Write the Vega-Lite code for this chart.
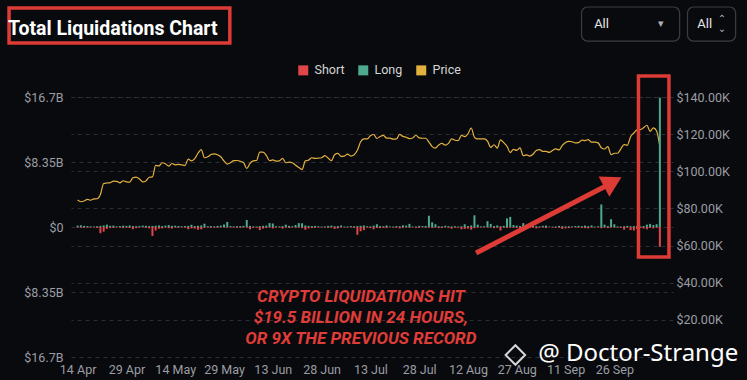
{
"$schema": "https://vega.github.io/schema/vega-lite/v6.json",
"width": 602, "height": 260,
"autosize": {"type": "none"},
"padding": {"left": 71, "top": 97, "right": 74, "bottom": 23},
"background": "#090a0e",
"title": {"text": "Total Liquidations Chart", "anchor": "start", "frame": "group", "dx": -63, "offset": -48, "baseline": "alphabetic", "font": "Liberation Sans Narrow, Roboto, sans-serif", "fontSize": 19.5, "fontWeight": "bold", "color": "#ffffff"},
"config": {
  "view": {"stroke": null},
  "axis": {"labelFont": "Liberation Sans Narrow, Roboto, sans-serif", "labelColor": "#9b9da4", "labelFontSize": 12.5, "domain": false, "ticks": false, "title": null, "gridColor": "#2c2e35", "gridDash": [4, 4], "gridWidth": 1}
},
"data": {"values": [
{"date":"2025-04-14","Long":0.18,"Short":-0.10,"Price":84500},
{"date":"2025-04-15","Long":0.22,"Short":-0.08,"Price":83600},
{"date":"2025-04-16","Long":0.15,"Short":-0.12,"Price":84000},
{"date":"2025-04-17","Long":0.12,"Short":-0.09,"Price":84900},
{"date":"2025-04-18","Long":0.08,"Short":-0.06,"Price":84400},
{"date":"2025-04-19","Long":0.07,"Short":-0.08,"Price":85100},
{"date":"2025-04-20","Long":0.10,"Short":-0.12,"Price":85200},
{"date":"2025-04-21","Long":0.14,"Short":-0.80,"Price":87500},
{"date":"2025-04-22","Long":0.20,"Short":-0.60,"Price":93400},
{"date":"2025-04-23","Long":0.30,"Short":-0.25,"Price":93700},
{"date":"2025-04-24","Long":0.16,"Short":-0.14,"Price":93900},
{"date":"2025-04-25","Long":0.18,"Short":-0.12,"Price":94700},
{"date":"2025-04-26","Long":0.09,"Short":-0.07,"Price":94600},
{"date":"2025-04-27","Long":0.12,"Short":-0.08,"Price":93800},
{"date":"2025-04-28","Long":0.17,"Short":-0.15,"Price":94900},
{"date":"2025-04-29","Long":0.14,"Short":-0.10,"Price":94300},
{"date":"2025-04-30","Long":0.20,"Short":-0.12,"Price":94200},
{"date":"2025-05-01","Long":0.12,"Short":-0.28,"Price":96500},
{"date":"2025-05-02","Long":0.10,"Short":-0.15,"Price":96900},
{"date":"2025-05-03","Long":0.14,"Short":-0.07,"Price":95900},
{"date":"2025-05-04","Long":0.18,"Short":-0.06,"Price":94300},
{"date":"2025-05-05","Long":0.15,"Short":-0.10,"Price":94800},
{"date":"2025-05-06","Long":0.12,"Short":-0.18,"Price":96800},
{"date":"2025-05-07","Long":0.14,"Short":-1.15,"Price":97000},
{"date":"2025-05-08","Long":0.16,"Short":-0.45,"Price":103200},
{"date":"2025-05-09","Long":0.20,"Short":-0.22,"Price":102900},
{"date":"2025-05-10","Long":0.12,"Short":-0.18,"Price":104600},
{"date":"2025-05-11","Long":0.18,"Short":-0.10,"Price":104100},
{"date":"2025-05-12","Long":0.25,"Short":-0.16,"Price":102800},
{"date":"2025-05-13","Long":0.14,"Short":-0.20,"Price":104200},
{"date":"2025-05-14","Long":0.16,"Short":-0.08,"Price":103500},
{"date":"2025-05-15","Long":0.13,"Short":-0.10,"Price":103700},
{"date":"2025-05-16","Long":0.10,"Short":-0.09,"Price":103500},
{"date":"2025-05-17","Long":0.12,"Short":-0.07,"Price":103100},
{"date":"2025-05-18","Long":0.14,"Short":-0.30,"Price":106500},
{"date":"2025-05-19","Long":0.28,"Short":-0.18,"Price":105600},
{"date":"2025-05-20","Long":0.12,"Short":-0.20,"Price":106800},
{"date":"2025-05-21","Long":0.15,"Short":-0.35,"Price":109700},
{"date":"2025-05-22","Long":0.20,"Short":-0.30,"Price":111700},
{"date":"2025-05-23","Long":0.42,"Short":-0.12,"Price":107300},
{"date":"2025-05-24","Long":0.10,"Short":-0.08,"Price":107800},
{"date":"2025-05-25","Long":0.12,"Short":-0.10,"Price":109000},
{"date":"2025-05-26","Long":0.08,"Short":-0.12,"Price":109400},
{"date":"2025-05-27","Long":0.14,"Short":-0.09,"Price":108900},
{"date":"2025-05-28","Long":0.18,"Short":-0.08,"Price":107800},
{"date":"2025-05-29","Long":0.32,"Short":-0.07,"Price":105600},
{"date":"2025-05-30","Long":0.65,"Short":-0.09,"Price":103900},
{"date":"2025-05-31","Long":0.12,"Short":-0.08,"Price":104600},
{"date":"2025-06-01","Long":0.08,"Short":-0.06,"Price":105700},
{"date":"2025-06-02","Long":0.10,"Short":-0.12,"Price":105800},
{"date":"2025-06-03","Long":0.12,"Short":-0.10,"Price":105400},
{"date":"2025-06-04","Long":0.15,"Short":-0.08,"Price":104700},
{"date":"2025-06-05","Long":0.90,"Short":-0.10,"Price":101500},
{"date":"2025-06-06","Long":0.14,"Short":-0.30,"Price":104300},
{"date":"2025-06-07","Long":0.08,"Short":-0.12,"Price":105600},
{"date":"2025-06-08","Long":0.07,"Short":-0.08,"Price":105800},
{"date":"2025-06-09","Long":0.12,"Short":-0.40,"Price":110300},
{"date":"2025-06-10","Long":0.15,"Short":-0.20,"Price":110300},
{"date":"2025-06-11","Long":0.18,"Short":-0.12,"Price":108600},
{"date":"2025-06-12","Long":0.50,"Short":-0.10,"Price":105700},
{"date":"2025-06-13","Long":0.45,"Short":-0.18,"Price":106100},
{"date":"2025-06-14","Long":0.10,"Short":-0.08,"Price":105500},
{"date":"2025-06-15","Long":0.08,"Short":-0.07,"Price":105600},
{"date":"2025-06-16","Long":0.12,"Short":-0.20,"Price":107000},
{"date":"2025-06-17","Long":0.30,"Short":-0.10,"Price":104600},
{"date":"2025-06-18","Long":0.15,"Short":-0.12,"Price":104900},
{"date":"2025-06-19","Long":0.10,"Short":-0.08,"Price":104600},
{"date":"2025-06-20","Long":0.25,"Short":-0.10,"Price":103300},
{"date":"2025-06-21","Long":0.50,"Short":-0.08,"Price":102100},
{"date":"2025-06-22","Long":0.48,"Short":-0.15,"Price":100900},
{"date":"2025-06-23","Long":0.20,"Short":-0.35,"Price":105600},
{"date":"2025-06-24","Long":0.15,"Short":-0.18,"Price":106000},
{"date":"2025-06-25","Long":0.12,"Short":-0.14,"Price":107300},
{"date":"2025-06-26","Long":0.14,"Short":-0.10,"Price":106900},
{"date":"2025-06-27","Long":0.10,"Short":-0.08,"Price":107100},
{"date":"2025-06-28","Long":0.06,"Short":-0.05,"Price":107300},
{"date":"2025-06-29","Long":0.08,"Short":-0.09,"Price":108400},
{"date":"2025-06-30","Long":0.14,"Short":-0.10,"Price":107100},
{"date":"2025-07-01","Long":0.18,"Short":-0.08,"Price":105700},
{"date":"2025-07-02","Long":0.10,"Short":-0.25,"Price":108900},
{"date":"2025-07-03","Long":0.12,"Short":-0.18,"Price":109600},
{"date":"2025-07-04","Long":0.20,"Short":-0.08,"Price":108000},
{"date":"2025-07-05","Long":0.06,"Short":-0.05,"Price":108200},
{"date":"2025-07-06","Long":0.07,"Short":-0.08,"Price":109200},
{"date":"2025-07-07","Long":0.12,"Short":-0.07,"Price":108200},
{"date":"2025-07-08","Long":0.10,"Short":-0.10,"Price":108900},
{"date":"2025-07-09","Long":0.12,"Short":-1.00,"Price":111300},
{"date":"2025-07-10","Long":0.15,"Short":-0.55,"Price":115900},
{"date":"2025-07-11","Long":0.20,"Short":-0.40,"Price":117500},
{"date":"2025-07-12","Long":0.10,"Short":-0.08,"Price":117400},
{"date":"2025-07-13","Long":0.08,"Short":-0.15,"Price":119100},
{"date":"2025-07-14","Long":0.18,"Short":-0.30,"Price":119800},
{"date":"2025-07-15","Long":0.35,"Short":-0.12,"Price":117700},
{"date":"2025-07-16","Long":0.12,"Short":-0.15,"Price":118700},
{"date":"2025-07-17","Long":0.10,"Short":-0.12,"Price":119300},
{"date":"2025-07-18","Long":0.20,"Short":-0.14,"Price":117900},
{"date":"2025-07-19","Long":0.08,"Short":-0.06,"Price":117900},
{"date":"2025-07-20","Long":0.06,"Short":-0.07,"Price":117300},
{"date":"2025-07-21","Long":0.12,"Short":-0.10,"Price":117400},
{"date":"2025-07-22","Long":0.10,"Short":-0.18,"Price":119900},
{"date":"2025-07-23","Long":0.22,"Short":-0.10,"Price":118800},
{"date":"2025-07-24","Long":0.18,"Short":-0.08,"Price":118300},
{"date":"2025-07-25","Long":0.40,"Short":-0.10,"Price":117600},
{"date":"2025-07-26","Long":0.08,"Short":-0.06,"Price":117900},
{"date":"2025-07-27","Long":0.06,"Short":-0.12,"Price":119400},
{"date":"2025-07-28","Long":0.15,"Short":-0.10,"Price":118000},
{"date":"2025-07-29","Long":0.12,"Short":-0.07,"Price":117800},
{"date":"2025-07-30","Long":0.14,"Short":-0.08,"Price":117800},
{"date":"2025-07-31","Long":1.45,"Short":-0.10,"Price":115700},
{"date":"2025-08-01","Long":0.60,"Short":-0.12,"Price":113300},
{"date":"2025-08-02","Long":0.35,"Short":-0.08,"Price":112500},
{"date":"2025-08-03","Long":0.10,"Short":-0.15,"Price":114200},
{"date":"2025-08-04","Long":0.08,"Short":-0.12,"Price":115000},
{"date":"2025-08-05","Long":0.16,"Short":-0.07,"Price":114100},
{"date":"2025-08-06","Long":0.10,"Short":-0.10,"Price":115000},
{"date":"2025-08-07","Long":0.08,"Short":-0.22,"Price":117500},
{"date":"2025-08-08","Long":0.10,"Short":-0.10,"Price":116700},
{"date":"2025-08-09","Long":0.07,"Short":-0.08,"Price":116500},
{"date":"2025-08-10","Long":0.10,"Short":-0.30,"Price":119300},
{"date":"2025-08-11","Long":0.35,"Short":-0.25,"Price":118700},
{"date":"2025-08-12","Long":0.12,"Short":-0.20,"Price":120200},
{"date":"2025-08-13","Long":0.20,"Short":-0.35,"Price":123300},
{"date":"2025-08-14","Long":1.50,"Short":-0.15,"Price":118300},
{"date":"2025-08-15","Long":0.30,"Short":-0.10,"Price":117400},
{"date":"2025-08-16","Long":0.08,"Short":-0.05,"Price":117400},
{"date":"2025-08-17","Long":0.10,"Short":-0.07,"Price":117500},
{"date":"2025-08-18","Long":0.75,"Short":-0.08,"Price":116300},
{"date":"2025-08-19","Long":0.40,"Short":-0.06,"Price":112900},
{"date":"2025-08-20","Long":0.12,"Short":-0.15,"Price":114300},
{"date":"2025-08-21","Long":0.20,"Short":-0.08,"Price":112500},
{"date":"2025-08-22","Long":0.10,"Short":-0.45,"Price":116900},
{"date":"2025-08-23","Long":0.15,"Short":-0.10,"Price":115400},
{"date":"2025-08-24","Long":1.10,"Short":-0.12,"Price":113500},
{"date":"2025-08-25","Long":1.30,"Short":-0.10,"Price":110100},
{"date":"2025-08-26","Long":0.25,"Short":-0.08,"Price":111800},
{"date":"2025-08-27","Long":0.18,"Short":-0.12,"Price":111300},
{"date":"2025-08-28","Long":0.12,"Short":-0.15,"Price":112600},
{"date":"2025-08-29","Long":0.50,"Short":-0.06,"Price":108400},
{"date":"2025-08-30","Long":0.12,"Short":-0.08,"Price":108800},
{"date":"2025-08-31","Long":0.10,"Short":-0.07,"Price":108200},
{"date":"2025-09-01","Long":0.25,"Short":-0.10,"Price":109200},
{"date":"2025-09-02","Long":0.10,"Short":-0.18,"Price":111200},
{"date":"2025-09-03","Long":0.08,"Short":-0.10,"Price":111700},
{"date":"2025-09-04","Long":0.15,"Short":-0.08,"Price":110700},
{"date":"2025-09-05","Long":0.18,"Short":-0.12,"Price":110700},
{"date":"2025-09-06","Long":0.06,"Short":-0.05,"Price":110200},
{"date":"2025-09-07","Long":0.05,"Short":-0.07,"Price":111200},
{"date":"2025-09-08","Long":0.07,"Short":-0.12,"Price":112100},
{"date":"2025-09-09","Long":0.14,"Short":-0.10,"Price":111500},
{"date":"2025-09-10","Long":0.10,"Short":-0.25,"Price":113900},
{"date":"2025-09-11","Long":0.08,"Short":-0.18,"Price":115500},
{"date":"2025-09-12","Long":0.10,"Short":-0.15,"Price":116100},
{"date":"2025-09-13","Long":0.08,"Short":-0.07,"Price":115900},
{"date":"2025-09-14","Long":0.12,"Short":-0.06,"Price":115300},
{"date":"2025-09-15","Long":0.15,"Short":-0.08,"Price":115400},
{"date":"2025-09-16","Long":0.10,"Short":-0.12,"Price":116800},
{"date":"2025-09-17","Long":0.18,"Short":-0.15,"Price":116500},
{"date":"2025-09-18","Long":0.12,"Short":-0.18,"Price":117100},
{"date":"2025-09-19","Long":0.20,"Short":-0.08,"Price":115700},
{"date":"2025-09-20","Long":0.06,"Short":-0.05,"Price":115700},
{"date":"2025-09-21","Long":0.10,"Short":-0.07,"Price":115300},
{"date":"2025-09-22","Long":2.90,"Short":-0.15,"Price":112700},
{"date":"2025-09-23","Long":0.30,"Short":-0.10,"Price":112000},
{"date":"2025-09-24","Long":0.12,"Short":-0.14,"Price":113300},
{"date":"2025-09-25","Long":1.00,"Short":-0.08,"Price":109000},
{"date":"2025-09-26","Long":0.35,"Short":-0.10,"Price":109700},
{"date":"2025-09-27","Long":0.08,"Short":-0.06,"Price":109700},
{"date":"2025-09-28","Long":0.06,"Short":-0.12,"Price":112100},
{"date":"2025-09-29","Long":0.10,"Short":-0.35,"Price":114400},
{"date":"2025-09-30","Long":0.15,"Short":-0.10,"Price":114000},
{"date":"2025-10-01","Long":0.10,"Short":-0.40,"Price":118600},
{"date":"2025-10-02","Long":0.12,"Short":-0.45,"Price":120600},
{"date":"2025-10-03","Long":0.14,"Short":-0.25,"Price":122300},
{"date":"2025-10-04","Long":0.08,"Short":-0.10,"Price":122400},
{"date":"2025-10-05","Long":0.12,"Short":-0.20,"Price":123500},
{"date":"2025-10-06","Long":0.30,"Short":-0.30,"Price":124800},
{"date":"2025-10-07","Long":0.40,"Short":-0.12,"Price":121500},
{"date":"2025-10-08","Long":0.25,"Short":-0.18,"Price":123400},
{"date":"2025-10-09","Long":0.35,"Short":-0.10,"Price":121700},
{"date":"2025-10-10","Long":16.60,"Short":-2.55,"Price":113200}
]},
"layer": [
  {
    "mark": {"type": "line", "strokeWidth": 1.2, "interpolate": "monotone"},
    "encoding": {
      "x": {"field": "date", "type": "temporal", "scale": {"type": "utc", "domain": [{"year": 2025, "month": 4, "date": 13, "hours": 12, "utc": true}, {"year": 2025, "month": 10, "date": 12, "hours": 12, "utc": true}]}, "axis": {"title": null, "labelExpr": "utcFormat(datum.value, '%d %b')", "labelPadding": 6, "grid": false, "labelOverlap": false, "labelFlush": false, "values": [{"year": 2025, "month": 4, "date": 14, "utc": true}, {"year": 2025, "month": 4, "date": 29, "utc": true}, {"year": 2025, "month": 5, "date": 14, "utc": true}, {"year": 2025, "month": 5, "date": 29, "utc": true}, {"year": 2025, "month": 6, "date": 13, "utc": true}, {"year": 2025, "month": 6, "date": 28, "utc": true}, {"year": 2025, "month": 7, "date": 13, "utc": true}, {"year": 2025, "month": 7, "date": 28, "utc": true}, {"year": 2025, "month": 8, "date": 12, "utc": true}, {"year": 2025, "month": 8, "date": 27, "utc": true}, {"year": 2025, "month": 9, "date": 11, "utc": true}, {"year": 2025, "month": 9, "date": 26, "utc": true}]}},
      "y": {"field": "Price", "type": "quantitative", "scale": {"domain": [0, 140000], "nice": false, "zero": false}, "axis": {"orient": "right", "values": [20000, 40000, 60000, 80000, 100000, 120000, 140000], "labelExpr": "'$' + format(datum.value / 1000, '.2f') + 'K'", "grid": true, "labelPadding": 3}},
      "color": {"datum": "Price"}
    }
  },
  {
    "layer": [
      {
        "transform": [{"fold": ["Short", "Long"], "as": ["series", "amount"]}],
        "mark": {"type": "bar", "size": 2},
        "encoding": {
          "x": {"field": "date", "type": "temporal", "axis": {"title": null, "labelExpr": "utcFormat(datum.value, '%d %b')", "labelPadding": 6, "grid": false, "labelOverlap": false, "labelFlush": false, "values": [{"year": 2025, "month": 4, "date": 14, "utc": true}, {"year": 2025, "month": 4, "date": 29, "utc": true}, {"year": 2025, "month": 5, "date": 14, "utc": true}, {"year": 2025, "month": 5, "date": 29, "utc": true}, {"year": 2025, "month": 6, "date": 13, "utc": true}, {"year": 2025, "month": 6, "date": 28, "utc": true}, {"year": 2025, "month": 7, "date": 13, "utc": true}, {"year": 2025, "month": 7, "date": 28, "utc": true}, {"year": 2025, "month": 8, "date": 12, "utc": true}, {"year": 2025, "month": 8, "date": 27, "utc": true}, {"year": 2025, "month": 9, "date": 11, "utc": true}, {"year": 2025, "month": 9, "date": 26, "utc": true}]}},
          "y": {"field": "amount", "type": "quantitative", "stack": null, "scale": {"domain": [-16.7, 16.7], "nice": false}, "axis": {"orient": "left", "values": [-16.7, -8.35, 0, 8.35, 16.7], "labelExpr": "datum.value == 0 ? '$0' : '$' + format(abs(datum.value), '.3~g') + 'B'", "grid": true, "labelPadding": 8}},
          "color": {"field": "series", "type": "nominal", "scale": {"domain": ["Short", "Long", "Price"], "range": ["#e0464a", "#4daa8d", "#e3b13f"]},
            "legend": {"orient": "none", "legendX": 226, "legendY": -33, "direction": "horizontal", "title": null, "symbolType": "square", "symbolSize": 100, "symbolStrokeWidth": 0, "labelColor": "#d5d5d5", "labelFontSize": 12.5, "labelFont": "Liberation Sans Narrow, Roboto, sans-serif", "columnPadding": 12, "labelOffset": 5, "padding": 0,
              "encode": {"symbols": {"update": {"fill": {"scale": "color", "field": "value"}, "opacity": {"value": 1}}}}}}
        }
      },
      {
        "data": {"values": [{}]},
        "mark": {"type": "rect", "filled": false, "stroke": "#dd3b35", "strokeWidth": 3.5},
        "encoding": {
          "x": {"datum": {"year": 2025, "month": 10, "date": 3, "hours": 10, "utc": true}, "type": "temporal"},
          "x2": {"datum": {"year": 2025, "month": 10, "date": 12, "hours": 19, "utc": true}},
          "y": {"datum": 19.4, "type": "quantitative"},
          "y2": {"datum": -3.85}
        }
      },
      {
        "data": {"values": [{}]},
        "mark": {"type": "rule", "stroke": "#dd3b35", "strokeWidth": 5},
        "encoding": {
          "x": {"datum": {"year": 2025, "month": 8, "date": 14, "hours": 12, "utc": true}, "type": "temporal"},
          "x2": {"datum": {"year": 2025, "month": 9, "date": 24, "hours": 0, "utc": true}},
          "y": {"datum": -3.34, "type": "quantitative"},
          "y2": {"datum": 5.4}
        }
      },
      {
        "data": {"values": [{}]},
        "mark": {"type": "point", "shape": "triangle-right", "filled": true, "color": "#dd3b35", "opacity": 1, "size": 520, "angle": 332},
        "encoding": {
          "x": {"datum": {"year": 2025, "month": 9, "date": 25, "hours": 12, "utc": true}, "type": "temporal"},
          "y": {"datum": 5.78, "type": "quantitative"}
        }
      },
      {
        "data": {"values": [{}]},
        "mark": {"type": "text", "text": ["CRYPTO LIQUIDATIONS HIT", "$19.5 BILLION IN 24 HOURS,", "OR 9X THE PREVIOUS RECORD"], "lineHeight": 21, "align": "center", "baseline": "middle", "font": "Liberation Sans Narrow, Roboto, sans-serif", "fontSize": 17, "fontWeight": "bold", "fontStyle": "italic", "color": "#e03c38"},
        "encoding": {
          "x": {"datum": {"year": 2025, "month": 7, "date": 10, "hours": 2, "utc": true}, "type": "temporal"},
          "y": {"datum": -8.95, "type": "quantitative"}
        }
      },
      {
        "data": {"values": [{}]},
        "mark": {"type": "rect", "filled": false, "stroke": "#dd3b35", "strokeWidth": 3.5},
        "encoding": {
          "x": {"datum": {"year": 2025, "month": 3, "date": 23, "hours": 22, "utc": true}, "type": "temporal"},
          "x2": {"datum": {"year": 2025, "month": 5, "date": 30, "hours": 19, "utc": true}},
          "y": {"datum": 28.13, "type": "quantitative"},
          "y2": {"datum": 23.64}
        }
      },
      {
        "data": {"values": [{}]},
        "mark": {"type": "rect", "filled": false, "stroke": "#3b3d45", "strokeWidth": 1.2, "cornerRadius": 6},
        "encoding": {
          "x": {"datum": {"year": 2025, "month": 9, "date": 15, "hours": 22, "utc": true}, "type": "temporal"},
          "x2": {"datum": {"year": 2025, "month": 10, "date": 16, "hours": 2, "utc": true}},
          "y": {"datum": 28.26, "type": "quantitative"},
          "y2": {"datum": 23.89}
        }
      },
      {
        "data": {"values": [{}]},
        "mark": {"type": "rect", "filled": false, "stroke": "#3b3d45", "strokeWidth": 1.2, "cornerRadius": 6},
        "encoding": {
          "x": {"datum": {"year": 2025, "month": 10, "date": 18, "hours": 12, "utc": true}, "type": "temporal"},
          "x2": {"datum": {"year": 2025, "month": 11, "date": 2, "hours": 7, "utc": true}},
          "y": {"datum": 28.26, "type": "quantitative"},
          "y2": {"datum": 23.89}
        }
      },
      {
        "data": {"values": [{}]},
        "mark": {"type": "text", "text": "All", "align": "left", "baseline": "middle", "font": "Roboto, sans-serif", "fontSize": 13, "color": "#e6e6e6"},
        "encoding": {
          "x": {"datum": {"year": 2025, "month": 9, "date": 19, "hours": 19, "utc": true}, "type": "temporal"},
          "y": {"datum": 26.08, "type": "quantitative"}
        }
      },
      {
        "data": {"values": [{}]},
        "mark": {"type": "text", "text": "▾", "align": "center", "baseline": "middle", "font": "DejaVu Sans", "fontSize": 11, "color": "#b0b0b0"},
        "encoding": {
          "x": {"datum": {"year": 2025, "month": 10, "date": 10, "hours": 7, "utc": true}, "type": "temporal"},
          "y": {"datum": 26.08, "type": "quantitative"}
        }
      },
      {
        "data": {"values": [{}]},
        "mark": {"type": "text", "text": "All", "align": "left", "baseline": "middle", "font": "Roboto, sans-serif", "fontSize": 13, "color": "#e6e6e6"},
        "encoding": {
          "x": {"datum": {"year": 2025, "month": 10, "date": 21, "hours": 12, "utc": true}, "type": "temporal"},
          "y": {"datum": 26.08, "type": "quantitative"}
        }
      },
      {
        "data": {"values": [{}]},
        "mark": {"type": "text", "text": "⌃", "align": "center", "baseline": "middle", "font": "DejaVu Sans", "fontSize": 10, "color": "#b0b0b0"},
        "encoding": {
          "x": {"datum": {"year": 2025, "month": 10, "date": 29, "hours": 2, "utc": true}, "type": "temporal"},
          "y": {"datum": 26.75, "type": "quantitative"}
        }
      },
      {
        "data": {"values": [{}]},
        "mark": {"type": "text", "text": "⌄", "align": "center", "baseline": "middle", "font": "DejaVu Sans", "fontSize": 10, "color": "#b0b0b0"},
        "encoding": {
          "x": {"datum": {"year": 2025, "month": 10, "date": 29, "hours": 2, "utc": true}, "type": "temporal"},
          "y": {"datum": 25.45, "type": "quantitative"}
        }
      },
      {
        "data": {"values": [{}]},
        "mark": {"type": "point", "shape": "diamond", "filled": false, "stroke": "#d8d8d8", "strokeWidth": 2, "opacity": 1, "size": 380},
        "encoding": {
          "x": {"datum": {"year": 2025, "month": 8, "date": 26, "hours": 14, "utc": true}, "type": "temporal"},
          "y": {"datum": -16.44, "type": "quantitative"}
        }
      },
      {
        "data": {"values": [{}]},
        "mark": {"type": "text", "text": "@ Doctor-Strange", "align": "left", "baseline": "middle", "font": "Noto Sans", "fontSize": 24, "color": "#ffffff"},
        "encoding": {
          "x": {"datum": {"year": 2025, "month": 9, "date": 2, "hours": 14, "utc": true}, "type": "temporal"},
          "y": {"datum": -16.31, "type": "quantitative"}
        }
      }
    ]
  }
],
"resolve": {"scale": {"y": "independent"}}
}
